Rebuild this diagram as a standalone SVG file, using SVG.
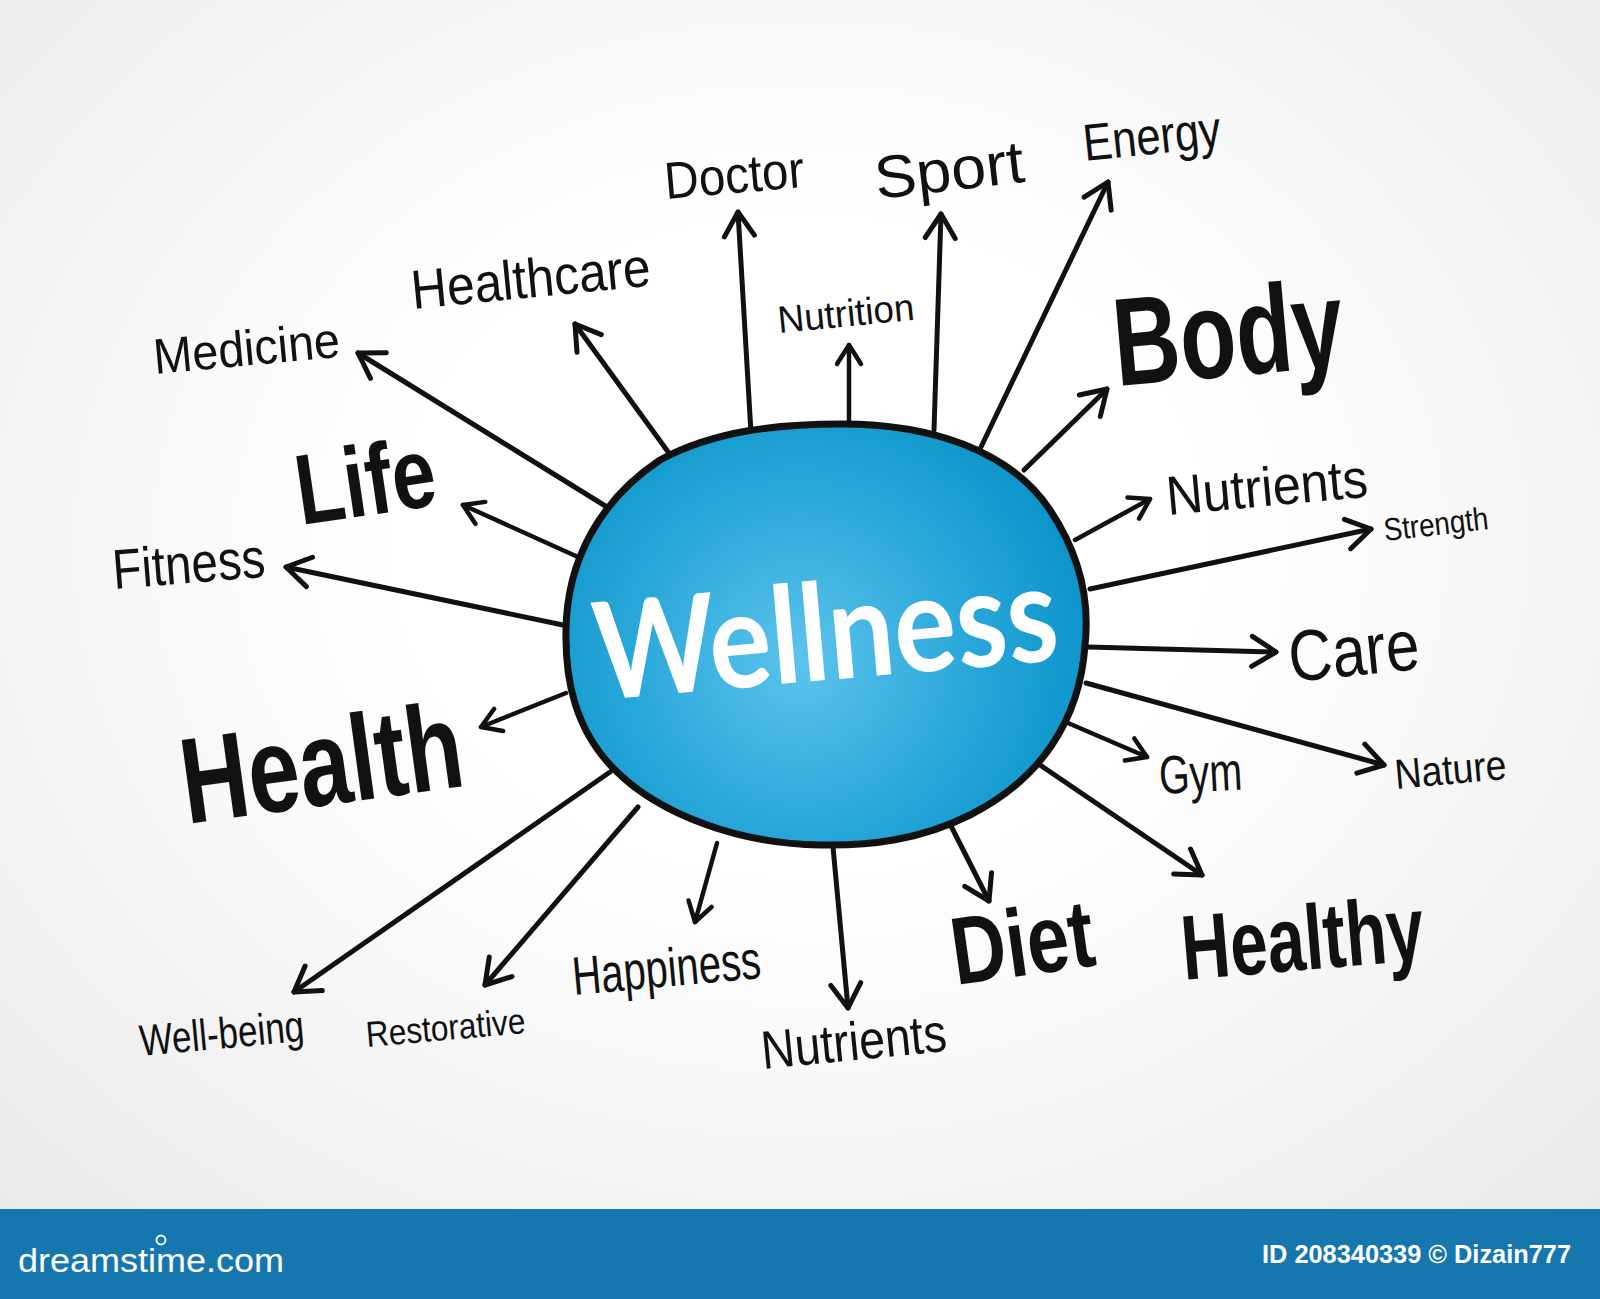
<svg xmlns="http://www.w3.org/2000/svg" width="1600" height="1299" viewBox="0 0 1600 1299">
  <defs>
    <radialGradient id="bg" cx="50%" cy="42%" r="72%">
      <stop offset="0.35" stop-color="#ffffff"/>
      <stop offset="1" stop-color="#eaeaea"/>
    </radialGradient>
    <radialGradient id="blobfill" gradientUnits="userSpaceOnUse" cx="800" cy="660" r="300">
      <stop offset="0" stop-color="#5dc3ec"/>
      <stop offset="0.55" stop-color="#2aa8da"/>
      <stop offset="1" stop-color="#0a93c9"/>
    </radialGradient>
    <marker id="ah" viewBox="-32 -20 36 40" markerWidth="36" markerHeight="40" refX="0" refY="0" orient="auto" markerUnits="userSpaceOnUse">
      <path d="M -24 -15 L 0 0 L -24 15" fill="none" stroke="#111" stroke-width="5" stroke-linecap="round" stroke-linejoin="round"/>
    </marker>
    <marker id="ahs" viewBox="-26 -16 30 32" markerWidth="30" markerHeight="32" refX="0" refY="0" orient="auto" markerUnits="userSpaceOnUse">
      <path d="M -19 -12 L 0 0 L -19 12" fill="none" stroke="#111" stroke-width="4.5" stroke-linecap="round" stroke-linejoin="round"/>
    </marker>
    <style>
      .lbl { font-family: "Liberation Sans Narrow", "Liberation Sans", "DejaVu Sans", sans-serif; fill: #111; }
      .big { font-weight: bold; }
      .arr { stroke: #111; stroke-width: 5; stroke-linecap: round; fill: none; marker-end: url(#ah); }
      .arrs { stroke: #111; stroke-width: 4.5; stroke-linecap: round; fill: none; marker-end: url(#ahs); }
      .ban { font-family: "Liberation Sans", "DejaVu Sans", sans-serif; fill: #ffffff; }
    </style>
  </defs>

  <rect x="0" y="0" width="1600" height="1299" fill="url(#bg)"/>

  <g id="connectors">
    <line class="arr" x1="751" y1="433" x2="738" y2="212"/>
    <line class="arrs" x1="849" y1="422" x2="849" y2="345"/>
    <line class="arr" x1="934" y1="430" x2="941" y2="214"/>
    <line class="arr" x1="981" y1="447" x2="1108" y2="182"/>
    <line class="arr" x1="1024" y1="470" x2="1107" y2="389"/>
    <line class="arrs" x1="1075" y1="540" x2="1150" y2="499"/>
    <line class="arr" x1="1090" y1="589" x2="1371" y2="529"/>
    <line class="arr" x1="1088" y1="647" x2="1276" y2="652"/>
    <line class="arr" x1="1086" y1="683" x2="1384" y2="765"/>
    <line class="arrs" x1="1068" y1="723" x2="1147" y2="757"/>
    <line class="arr" x1="1037" y1="763" x2="1202" y2="875"/>
    <line class="arr" x1="948" y1="820" x2="989" y2="901"/>
    <line class="arr" x1="833" y1="847" x2="848" y2="1008"/>
    <line class="arrs" x1="717" y1="843" x2="695" y2="922"/>
    <line class="arr" x1="638" y1="807" x2="485" y2="985"/>
    <line class="arr" x1="610" y1="772" x2="294" y2="992"/>
    <line class="arrs" x1="566" y1="693" x2="481" y2="727"/>
    <line class="arr" x1="563" y1="625" x2="286" y2="567"/>
    <line class="arrs" x1="578" y1="557" x2="463" y2="505"/>
    <line class="arr" x1="607" y1="507" x2="358" y2="353"/>
    <line class="arr" x1="674" y1="460" x2="575" y2="324"/>
  </g>

  <g id="wellness">
    <path d="M 842 424 C 930 424, 1010 450, 1050 510 C 1080 555, 1090 600, 1085 645 C 1080 720, 1040 780, 970 815 C 920 840, 870 846, 820 845 C 740 844, 660 815, 615 770 C 575 730, 565 680, 566 630 C 567 560, 600 500, 660 460 C 715 430, 780 424, 842 424 Z" fill="url(#blobfill)" stroke="#111" stroke-width="7" stroke-linejoin="round"/>
    <text x="598" y="700" transform="rotate(-5 598 700)" font-family="Lato, 'Open Sans', 'Liberation Sans', sans-serif" font-weight="bold" font-size="135" fill="#ffffff" textLength="465" lengthAdjust="spacingAndGlyphs">Wellness</text>
  </g>

  <g id="doctor"><text class="lbl" x="666" y="199" font-size="52" transform="rotate(-5 666 199)" textLength="140" lengthAdjust="spacingAndGlyphs">Doctor</text></g>
  <g id="sport"><text class="lbl" x="877" y="199" font-size="60" transform="rotate(-6.6 877 199)" textLength="150" lengthAdjust="spacingAndGlyphs">Sport</text></g>
  <g id="energy"><text class="lbl" x="1085" y="161" font-size="52" transform="rotate(-6 1085 161)" textLength="138" lengthAdjust="spacingAndGlyphs">Energy</text></g>
  <g id="healthcare"><text class="lbl" x="413" y="309" font-size="55" transform="rotate(-5.6 413 309)" textLength="240" lengthAdjust="spacingAndGlyphs">Healthcare</text></g>
  <g id="medicine"><text class="lbl" x="155" y="374" font-size="50" transform="rotate(-5.3 155 374)" textLength="187" lengthAdjust="spacingAndGlyphs">Medicine</text></g>
  <g id="nutrition"><text class="lbl" x="779" y="333" font-size="38" transform="rotate(-5.6 779 333)" textLength="137" lengthAdjust="spacingAndGlyphs">Nutrition</text></g>
  <g id="body"><text class="lbl big" x="1117" y="386" font-size="125" transform="rotate(-5 1117 386)" textLength="230" lengthAdjust="spacingAndGlyphs">Body</text></g>
  <g id="life"><text class="lbl big" x="301" y="525" font-size="100" transform="rotate(-8.3 301 525)" textLength="140" lengthAdjust="spacingAndGlyphs">Life</text></g>
  <g id="fitness"><text class="lbl" x="114" y="589" font-size="56" transform="rotate(-4.6 114 589)" textLength="153" lengthAdjust="spacingAndGlyphs">Fitness</text></g>
  <g id="nutrients-right"><text class="lbl" x="1168" y="515" font-size="55" transform="rotate(-5.2 1168 515)" textLength="202" lengthAdjust="spacingAndGlyphs">Nutrients</text></g>
  <g id="strength"><text class="lbl" x="1385" y="541" font-size="32" transform="rotate(-6.6 1385 541)" textLength="105" lengthAdjust="spacingAndGlyphs">Strength</text></g>
  <g id="care"><text class="lbl" x="1291" y="682" font-size="72" transform="rotate(-5.8 1291 682)" textLength="131" lengthAdjust="spacingAndGlyphs">Care</text></g>
  <g id="health"><text class="lbl big" x="187" y="824" font-size="122" transform="rotate(-7.8 187 824)" textLength="283" lengthAdjust="spacingAndGlyphs">Health</text></g>
  <g id="gym"><text class="lbl" x="1160" y="794" font-size="54" transform="rotate(-3 1160 794)" textLength="83" lengthAdjust="spacingAndGlyphs">Gym</text></g>
  <g id="nature"><text class="lbl" x="1396" y="789" font-size="42" transform="rotate(-5.2 1396 789)" textLength="112" lengthAdjust="spacingAndGlyphs">Nature</text></g>
  <g id="happiness"><text class="lbl" x="574" y="995" font-size="54" transform="rotate(-5.2 574 995)" textLength="189" lengthAdjust="spacingAndGlyphs">Happiness</text></g>
  <g id="diet"><text class="lbl big" x="956" y="985" font-size="96" transform="rotate(-8 956 985)" textLength="143" lengthAdjust="spacingAndGlyphs">Diet</text></g>
  <g id="healthy"><text class="lbl big" x="1184" y="980" font-size="92" transform="rotate(-4.8 1184 980)" textLength="243" lengthAdjust="spacingAndGlyphs">Healthy</text></g>
  <g id="well-being"><text class="lbl" x="141" y="1056" font-size="44" transform="rotate(-5.3 141 1056)" textLength="165" lengthAdjust="spacingAndGlyphs">Well-being</text></g>
  <g id="restorative"><text class="lbl" x="367" y="1047" font-size="36" transform="rotate(-5 367 1047)" textLength="160" lengthAdjust="spacingAndGlyphs">Restorative</text></g>
  <g id="nutrients-bottom"><text class="lbl" x="763" y="1069" font-size="54" transform="rotate(-5.6 763 1069)" textLength="186" lengthAdjust="spacingAndGlyphs">Nutrients</text></g>

  <g id="banner">
    <rect x="0" y="1209" width="1600" height="90" fill="#1577ae"/>
    <text class="ban" x="18" y="1272" font-size="34" textLength="266" lengthAdjust="spacingAndGlyphs">dreamstime.com</text>
    <circle cx="161" cy="1240" r="4.5" fill="none" stroke="#ffffff" stroke-width="1.8"/>
    <text class="ban" x="1262" y="1263" font-size="25" font-weight="bold" textLength="309" lengthAdjust="spacingAndGlyphs">ID 208340339 © Dizain777</text>
  </g>
</svg>
